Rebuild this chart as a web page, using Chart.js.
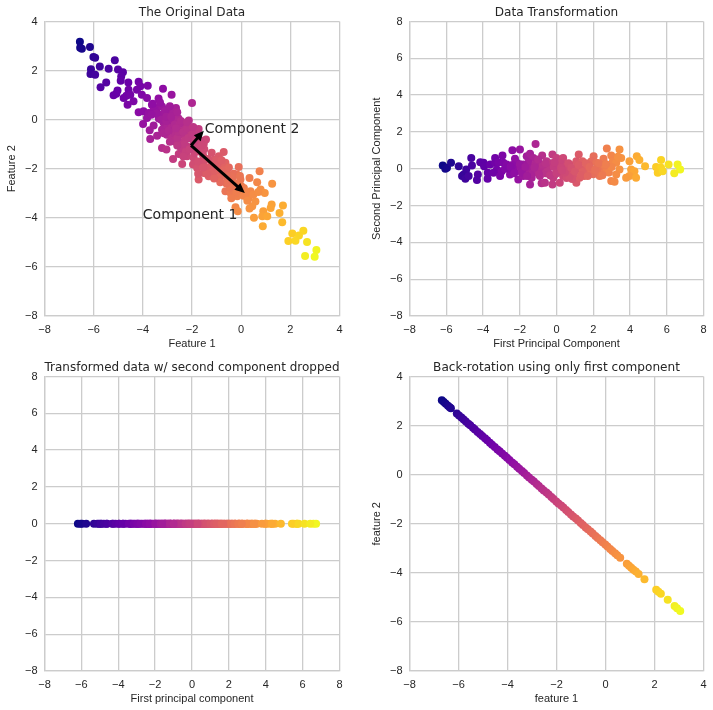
<!DOCTYPE html>
<html>
<head>
<meta charset="utf-8">
<title>PCA illustration</title>
<script src="https://cdn.jsdelivr.net/npm/chart.js@4"></script>
<style>
  body { margin: 0; background: #fff; }
  canvas { position: absolute; }
</style>
</head>
<body>
<canvas id="chart1" width="345" height="355" style="left:0;top:0"></canvas>
<canvas id="chart2" width="348" height="355" style="left:365px;top:0"></canvas>
<canvas id="chart3" width="345" height="355" style="left:0;top:355px"></canvas>
<canvas id="chart4" width="348" height="355" style="left:365px;top:355px"></canvas>
<script>
// top left: the original data
const feature1 = [
  -6.56,-6.55,-6.48,-6.15,-6.01,-5.94,-6.11,-6.13,-5.94,-5.75,
  -5.39,-5.14,-5.01,-4.81,-4.88,-4.90,-4.59,-5.49,-5.72,-5.03,
  -5.08,-5.19,-4.58,-4.78,-4.67,-4.62,-4.38,-4.51,-4.17,-4.10,
  -3.80,-4.24,-4.04,-3.83,-3.18,-2.83,-3.36,-2.00,-3.63,-3.42,
  -3.22,-2.95,-2.65,-4.17,-3.97,-3.76,-3.56,-3.29,-2.95,-2.68,
  -3.02,-2.81,-3.15,-3.83,-3.99,-3.56,-3.72,-3.70,-3.42,-2.13,
  -2.34,-2.54,-2.13,-1.73,-3.22,-3.02,-2.81,-2.61,-2.27,-2.07,
  -1.79,-1.43,-1.52,-1.73,-1.93,-3.22,-3.04,-2.74,-2.47,-2.20,
  -2.00,-2.54,-2.77,-2.40,-2.20,-1.93,-1.96,-1.79,-1.73,-1.52,
  -1.32,-1.11,-1.11,-0.91,-0.71,-0.64,-0.57,-0.77,-0.98,-1.25,
  -1.52,-0.10,-0.16,-0.03,-0.30,-0.57,-0.64,-0.43,-0.16,0.11,
  0.34,0.75,0.65,1.26,0.38,0.31,0.58,0.45,0.79,0.96,
  -0.23,-0.14,0.34,1.24,1.70,1.20,0.90,1.56,0.52,0.86,
  1.06,1.67,0.88,2.08,2.53,2.35,1.92,2.21,2.68,3.06,
  2.60,2.99,-3.10,-3.35,-3.00,-2.85,-2.70,-2.45,-2.40,-2.30,
  -2.05,-1.85,-1.90,-1.70,-1.60,-1.40,-1.20,-1.05,-0.85,-0.75,
  -0.50,-0.40,-0.25,-0.10,-0.45,-0.30,-2.60,-2.45,-2.25,-1.75,
  -2.90,-2.55,-2.75,-3.15,-2.95,
  -3.45,-3.25,-3.05,-3.05,-2.85,-2.70,-2.50,-2.55,-2.65,-2.35,
  -2.20,-2.15,-2.00,-1.85,-1.65,-2.30,-2.10,-1.80,-1.55,-1.75,
  -1.35,-1.20,-1.40,-1.05,-0.90,-0.95,-0.70,-0.50,-0.60,-0.35,
  -0.15,-0.20,-0.05,0.10,0.00,0.20,-3.60,-3.30,-2.90,-3.65,
  0.50,0.70,0.25,-0.40,-0.60,-0.85,-1.10,-1.50,-1.20,-1.00,
  -0.80,-1.55,-2.60,-2.35,-2.90,-2.60,-2.45,-2.20,-1.95,-1.60
];
const feature2 = [
  3.18,2.93,2.89,2.96,2.55,2.52,2.06,1.86,1.83,2.17,
  2.08,2.42,2.04,1.93,1.76,1.59,1.52,1.51,1.32,1.19,
  1.06,1.00,1.22,0.88,0.98,0.61,0.75,1.02,1.55,1.36,
  1.38,1.22,1.02,0.88,1.26,1.02,0.86,0.68,0.61,0.48,
  0.54,0.41,0.48,0.30,0.34,0.27,0.41,0.20,0.14,0.20,
  0.00,-0.07,-0.14,0.07,-0.18,-0.24,-0.43,-0.79,-0.65,-0.03,
  -0.20,-0.34,-0.41,-0.38,-0.41,-0.61,-0.75,-0.48,-0.61,-0.75,
  -0.68,-0.81,-0.98,-1.02,-0.92,-1.15,-1.22,-0.88,-0.95,-1.09,
  -1.22,-1.40,-1.60,-1.81,-1.49,-1.56,-1.83,-1.97,-2.44,-2.17,
  -2.31,-1.90,-1.63,-1.49,-1.32,-1.76,-2.04,-2.17,-2.38,-2.04,
  -1.70,-1.93,-2.24,-2.44,-2.58,-2.44,-2.92,-2.99,-3.12,-2.78,
  -2.38,-2.10,-2.55,-2.61,-2.92,-3.19,-3.33,-3.53,-2.85,-2.99,
  -3.57,-3.73,-3.62,-3.46,-3.50,-3.60,-3.73,-3.80,-4.00,-3.94,
  -3.94,-4.18,-4.34,-4.64,-4.53,-4.72,-4.94,-4.93,-4.98,-5.31,
  -5.55,-5.59,0.35,0.05,-0.25,-0.35,-0.55,-0.60,-0.35,-0.85,
  -0.45,-0.55,-1.35,-1.30,-1.70,-1.95,-2.15,-2.10,-2.30,-1.90,
  -2.30,-2.55,-2.75,-2.90,-2.75,-2.20,-0.75,-1.15,-1.30,-2.20,
  0.00,0.05,0.30,-0.55,-0.45,
  0.25,0.00,-0.05,0.12,0.12,-0.20,-0.15,-0.50,-0.35,-0.50,
  -0.35,-0.75,-0.60,-0.85,-0.85,-1.00,-1.20,-1.15,-1.45,-1.70,
  -1.60,-1.85,-2.20,-1.95,-2.05,-1.75,-2.05,-1.95,-2.60,-2.35,
  -2.60,-3.00,-2.30,-3.10,-2.70,-3.00,0.65,0.70,0.55,0.20,
  -3.05,-2.95,-3.30,-3.20,-2.30,-2.55,-2.40,-1.20,-1.35,-1.65,
  -1.65,-1.95,-1.05,-1.50,-0.90,0.30,-0.05,-0.10,-0.30,-1.05
];

// top right: data in the principal component axes
const pc1 = [
  -6.19,-6.05,-5.96,-5.74,-5.32,-4.64,-4.91,-5.05,-5.14,-4.96,
  -4.78,-4.60,-4.28,-4.33,-4.15,-3.97,-3.94,-3.61,-3.74,-3.75,
  -3.34,-2.94,-3.34,-3.25,-3.43,-3.07,-3.16,-2.89,-2.71,-2.98,
  -2.53,-2.26,-2.40,-1.99,-1.14,-2.17,-2.26,-2.08,-1.81,-1.71,
  -1.62,-1.44,-1.26,-1.53,-1.81,-1.95,-1.44,-1.17,-1.35,-1.44,
  -0.81,-0.63,-0.90,-0.72,-0.99,-0.78,-0.54,-0.22,0.00,0.36,
  0.36,0.09,-0.36,-0.45,-0.18,-0.22,0.18,-0.09,0.36,0.63,
  0.90,0.72,1.21,1.08,1.41,1.08,1.26,0.90,1.53,1.62,
  1.90,2.02,1.90,2.17,2.35,2.53,2.71,2.35,2.74,2.98,
  2.56,3.43,3.52,3.07,3.25,3.43,3.25,2.98,3.16,3.97,
  4.37,4.51,4.82,4.06,4.24,3.97,3.79,4.33,5.69,5.42,
  5.69,5.51,5.78,6.10,6.59,6.73,6.41,-1.50,-1.30,-1.00,
  -0.85,-0.60,-0.30,0.10,0.20,0.55,0.50,0.85,1.10,1.30,
  1.50,1.75,2.00,2.20,2.60,2.85,3.00,-2.60,-2.40,-1.90,
  -1.15,-0.50,3.35,0.70,1.40,
  -2.80,-2.50,-2.30,-2.00,-1.70,-1.60,-1.20,-0.95,-0.75,-0.60,
  -0.35,-0.15,0.00,0.25,0.45,0.65,0.80,1.00,1.20,1.35,
  1.60,1.80,2.10,2.30,2.50,2.70,-0.10,0.30,-1.00,1.70
];
const pc2 = [
  0.18,0.00,0.05,0.32,0.13,0.58,-0.04,-0.31,-0.40,-0.54,
  -0.40,0.18,-0.31,-0.61,0.36,0.32,0.14,0.23,-0.22,-0.54,
  0.58,0.72,0.32,-0.04,-0.22,-0.40,0.36,0.32,0.23,-0.13,
  -0.31,0.54,1.01,1.05,1.35,0.32,-0.04,-0.58,-0.40,-0.22,
  0.68,0.81,0.59,0.32,0.23,0.05,-0.13,0.05,-0.49,-0.85,
  -0.79,-0.76,-0.40,-0.04,0.32,0.72,0.41,0.77,0.59,0.59,
  0.32,0.23,0.14,-0.22,-0.49,-0.85,-0.76,-0.31,-0.40,-0.13,
  -0.04,0.23,0.77,0.41,0.41,-0.76,-0.49,-0.31,-0.22,0.05,
  -0.13,0.68,0.41,0.32,-0.40,-0.22,-0.04,0.14,1.10,0.72,
  0.54,1.05,0.59,0.41,0.32,-0.04,-0.31,-0.67,-0.70,0.41,
  0.68,0.47,0.14,-0.04,-0.13,-0.40,-0.49,-0.49,0.47,0.09,
  0.05,-0.22,-0.13,0.23,0.23,-0.04,-0.25,0.00,-0.25,-0.10,
  0.10,-0.25,0.30,-0.10,0.30,-0.50,0.10,-0.55,0.10,0.00,
  -0.40,0.20,-0.30,-0.10,0.20,-0.20,0.10,0.00,0.20,-0.20,
  0.25,0.05,0.65,-0.45,-0.15,
  0.00,0.10,-0.25,0.25,0.10,-0.40,0.05,-0.30,0.20,0.30,
  -0.35,0.10,-0.25,0.05,-0.20,0.30,0.05,-0.15,0.20,-0.35,
  0.30,0.10,-0.05,0.30,-0.35,0.25,0.35,-0.10,0.50,-0.40
];

// bottom left: second component dropped, x values are pc1
const dropped = [
  0,0,0,0,0,0,0,0,0,0, 0,0,0,0,0,0,0,0,0,0, 0,0,0,0,0,0,0,0,0,0,
  0,0,0,0,0,0,0,0,0,0, 0,0,0,0,0,0,0,0,0,0, 0,0,0,0,0,0,0,0,0,0,
  0,0,0,0,0,0,0,0,0,0, 0,0,0,0,0,0,0,0,0,0, 0,0,0,0,0,0,0,0,0,0,
  0,0,0,0,0,0,0,0,0,0, 0,0,0,0,0,0,0,0,0,0, 0,0,0,0,0,0,0,0,0,0,
  0,0,0,0,0,0,0,0,0,0, 0,0,0,0,0,0,0,0,0,0, 0,0,0,0,0,
  0,0,0,0,0,0,0,0,0,0, 0,0,0,0,0,0,0,0,0,0, 0,0,0,0,0,0,0,0,0,0
];

// bottom right: back-rotated points, all on one line
const back1 = [
  -6.68,-6.60,-6.52,-6.43,-6.36,-6.31,-6.07,-5.98,-5.88,-5.79,
  -5.70,-5.60,-5.52,-5.41,-5.33,-5.22,-5.12,-5.03,-4.92,-4.83,
  -4.72,-4.63,-4.52,-4.41,-4.32,-4.22,-4.11,-4.02,-3.92,-3.81,
  -3.72,-3.61,-3.52,-3.41,-3.32,-3.21,-3.12,-3.01,-2.92,-2.81,
  -2.72,-2.61,-2.52,-2.41,-2.32,-2.21,-2.12,-2.01,-1.92,-1.81,
  -1.72,-1.61,-1.52,-1.41,-1.32,-1.21,-1.12,-1.01,-0.92,-0.81,
  -0.72,-0.61,-0.52,-0.41,-0.32,-0.21,-0.12,-0.01,0.08,0.19,
  0.28,0.39,0.48,0.60,0.87,0.96,1.05,1.14,1.24,1.35,
  1.59,2.07,2.16,2.26,2.54,2.82,2.92,3.05
];
const back2 = [
  3.03,2.96,2.89,2.81,2.75,2.71,2.49,2.41,2.33,2.25,
  2.17,2.08,2.01,1.91,1.84,1.74,1.66,1.58,1.48,1.40,
  1.30,1.22,1.13,1.03,0.95,0.86,0.77,0.69,0.60,0.50,
  0.42,0.32,0.24,0.15,0.07,-0.03,-0.11,-0.21,-0.28,-0.38,
  -0.46,-0.56,-0.64,-0.73,-0.81,-0.91,-0.99,-1.09,-1.17,-1.26,
  -1.34,-1.44,-1.52,-1.62,-1.70,-1.79,-1.87,-1.97,-2.05,-2.15,
  -2.22,-2.32,-2.40,-2.50,-2.58,-2.67,-2.75,-2.85,-2.93,-3.03,
  -3.11,-3.20,-3.28,-3.39,-3.63,-3.71,-3.79,-3.87,-3.95,-4.05,
  -4.26,-4.69,-4.77,-4.85,-5.10,-5.35,-5.44,-5.55
];

// arrows and labels on the first panel
const arrowOrigin = [-2.04, -1.05];
const arrowTips = [[0.15, -2.99], [-1.52, -0.45]];
const arrowLabels = ["Component 1", "Component 2"];
const labelSpots = [[-4.0, -4.03], [-1.48, -0.54]];

const ticks12 = [-8, 4];
const ticks16 = [-8, 8];

const plasma = ["#0d0887","#41049d","#6a00a8","#8f0da4","#b12a90","#cc4778","#e16462","#f2844b","#fca636","#fcce25","#f0f921"];
const textColor = "#262626";
const gridColor = "#cccccc";
const sansFont = '"Liberation Sans", Arial, sans-serif';
const titleFont = '"DejaVu Sans", sans-serif';

Chart.defaults.animation = false;

const hexToRgb = (hex) => [1, 3, 5].map((i) => parseInt(hex.slice(i, i + 2), 16));

// colour runs along the first component, like c=X_pca[:, 0]
const plasmaColor = (value) => {
  const t = Math.min(1, Math.max(0, (value + 6.2) / 13)) * 10;
  const i = Math.min(9, Math.floor(t));
  const a = hexToRgb(plasma[i]);
  const b = hexToRgb(plasma[i + 1]);
  const mix = a.map((v, k) => Math.round(v + (b[k] - v) * (t - i)));
  return `rgb(${mix[0]},${mix[1]},${mix[2]})`;
};

const projected = (x, y) => 0.748 * (x + 2.06) - 0.664 * (y + 1.07);

const drawArrow = (ctx, x0, y0, x1, y1) => {
  const angle = Math.atan2(y1 - y0, x1 - x0);
  const head = 11;
  ctx.strokeStyle = "#000";
  ctx.fillStyle = "#000";
  ctx.lineWidth = 3;
  ctx.beginPath();
  ctx.moveTo(x0, y0);
  ctx.lineTo(x1 - Math.cos(angle) * head * 0.8, y1 - Math.sin(angle) * head * 0.8);
  ctx.stroke();
  ctx.beginPath();
  ctx.moveTo(x1, y1);
  ctx.lineTo(x1 - head * Math.cos(angle - 0.42), y1 - head * Math.sin(angle - 0.42));
  ctx.lineTo(x1 - head * Math.cos(angle + 0.42), y1 - head * Math.sin(angle + 0.42));
  ctx.closePath();
  ctx.fill();
};

const componentArrows = {
  id: "componentArrows",
  afterDatasetsDraw(chart) {
    const { ctx, scales } = chart;
    ctx.save();
    ctx.lineCap = "butt";
    arrowTips.forEach((tip) => {
      drawArrow(
        ctx,
        scales.x.getPixelForValue(arrowOrigin[0]),
        scales.y.getPixelForValue(arrowOrigin[1]),
        scales.x.getPixelForValue(tip[0]),
        scales.y.getPixelForValue(tip[1])
      );
    });
    ctx.font = `14px ${titleFont}`;
    ctx.fillStyle = textColor;
    ctx.textBaseline = "alphabetic";
    arrowLabels.forEach((label, i) => {
      ctx.fillText(label, scales.x.getPixelForValue(labelSpots[i][0]), scales.y.getPixelForValue(labelSpots[i][1]));
    });
    ctx.restore();
  },
};

const axisOptions = (range, label, isX) => ({
  type: "linear",
  min: range[0],
  max: range[1],
  border: { color: gridColor, width: 1.3 },
  grid: { color: gridColor, lineWidth: 1.3, drawTicks: false },
  title: {
    display: true,
    text: label,
    color: textColor,
    font: { family: sansFont, size: 11 },
    padding: isX ? { top: 0, bottom: 4.5 } : { top: 5, bottom: 0 },
  },
  ticks: {
    stepSize: 2,
    color: textColor,
    font: { family: sansFont, size: 11 },
    padding: isX ? 7 : 7,
    maxRotation: 0,
    autoSkip: false,
    callback: (value) => String(value).replace("-", "\u2212"),
  },
  afterFit: (scale) => {
    // fixed axis boxes so the plot area lands where the reference has it
    if (isX) {
      scale.height = 39;
      scale.paddingLeft = 0;
      scale.paddingRight = 0;
    } else {
      scale.width = 44.5;
      scale.paddingTop = 0;
      scale.paddingBottom = 0;
    }
  },
});

const makePanel = (id, xs, ys, colorValues, xRange, yRange, xLabel, yLabel, title, rightPad, plugins) => {
  new Chart(document.getElementById(id), {
    type: "scatter",
    data: {
      datasets: [{
        data: xs.map((x, i) => ({ x, y: ys[i] })),
        pointRadius: 4,
        pointHoverRadius: 4,
        pointBorderWidth: 0,
        pointBackgroundColor: colorValues.map(plasmaColor),
      }],
    },
    options: {
      responsive: false,
      layout: { padding: { left: 0, top: 0, bottom: 0, right: rightPad } },
      plugins: {
        legend: { display: false },
        tooltip: { enabled: false },
        title: {
          display: true,
          fullSize: false,
          text: title,
          color: textColor,
          font: { family: titleFont, size: 12.1, weight: "normal" },
          padding: { top: 5.5, bottom: 1.5 },
        },
      },
      scales: {
        x: axisOptions(xRange, xLabel, true),
        y: axisOptions(yRange, yLabel, false),
      },
    },
    plugins: plugins || [],
  });
};

makePanel("chart1", feature1, feature2, feature1.map((x, i) => projected(x, feature2[i])),
  ticks12, ticks12, "Feature 1", "Feature 2", "The Original Data", 5.5, [componentArrows]);
makePanel("chart2", pc1, pc2, pc1,
  ticks16, ticks16, "First Principal Component", "Second Principal Component", "Data Transformation", 9.5);
makePanel("chart3", pc1, dropped, pc1,
  ticks16, ticks16, "First principal component", "", "Transformed data w/ second component dropped", 5.5);
makePanel("chart4", back1, back2, back1.map((x, i) => projected(x, back2[i])),
  ticks12, ticks12, "feature 1", "feature 2", "Back-rotation using only first component", 9.5);
</script>
</body>
</html>
